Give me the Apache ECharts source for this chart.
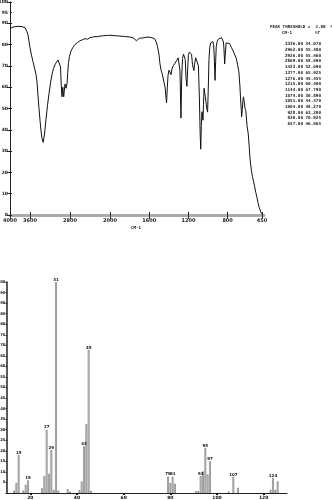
<!DOCTYPE html>
<html><head><meta charset="utf-8">
<script src="https://cdn.jsdelivr.net/npm/echarts@6/dist/echarts.min.js"></script>
<style>html,body{margin:0;padding:0;background:#fff;}#c{width:332px;height:500px;}</style>
</head><body><div id="c"></div>
<script>
// ---------- IR spectrum (top) ----------
const irWavenumber = [4000,3970,3940,3910,3880,3850,3820,3790,3760,3730,3700,3680,3660,3640,3620,3600,3570,3540,3510,3480,3460,3440,3420,3400,3380,3360,3336,3310,3280,3250,3220,3190,3160,3130,3100,3070,3040,3020,3005,2990,2975,2962,2952,2944,2936,2926,2915,2900,2888,2878,2869,2858,2845,2830,2810,2780,2740,2700,2650,2600,2550,2500,2450,2400,2350,2300,2250,2200,2150,2100,2050,2000,1950,1900,1850,1800,1765,1745,1730,1715,1700,1670,1640,1600,1570,1545,1528,1515,1502,1490,1478,1468,1458,1448,1438,1423,1415,1408,1398,1390,1385,1377,1368,1355,1340,1320,1305,1293,1286,1276,1268,1260,1250,1240,1232,1224,1215,1208,1200,1190,1178,1168,1158,1144,1135,1125,1113,1105,1098,1088,1080,1074,1068,1062,1057,1051,1046,1040,1034,1027,1018,1010,1004,998,990,982,973,960,950,943,937,928,922,916,906,896,880,862,850,842,836,830,824,815,800,780,760,748,730,712,698,685,675,667,660,657,650,644,638,630,622,614,602,590,580,573,563,555,546,538,525,512,502,490,478,468,458,450];
const irTransmittance = [87.6,87.9,88.2,88.0,88.5,88.1,88.6,88.2,88.4,87.9,88.0,87.2,86.0,84.5,81.5,78.5,75.0,72.0,69.0,66.0,62.5,56.0,50.0,44.5,39.5,36.0,34.1,38.0,45.0,51.5,57.0,62.0,66.0,68.8,70.5,71.8,72.8,73.0,72.5,69.5,61.0,55.5,57.0,60.0,58.0,55.5,58.0,61.5,62.0,59.5,58.7,62.0,67.0,71.5,74.5,77.0,78.8,80.0,81.0,81.8,82.3,82.8,82.5,83.3,83.5,83.8,83.7,84.0,84.1,84.3,84.3,84.4,84.2,84.0,83.8,83.6,83.2,82.5,81.8,82.4,83.0,83.1,83.4,83.5,83.2,82.8,81.2,79.0,76.0,71.0,67.8,66.4,66.8,65.5,60.0,52.7,60.0,65.5,68.0,68.8,67.5,65.9,68.5,70.0,71.0,72.5,73.8,74.2,68.0,45.5,65.0,73.5,75.5,76.2,73.0,64.0,60.4,68.0,75.0,76.5,77.2,75.5,70.5,67.8,71.5,73.8,74.6,74.2,70.0,55.0,38.0,30.9,42.0,48.5,47.5,44.5,52.0,59.5,57.5,55.5,52.0,49.5,48.3,58.0,73.0,78.5,80.8,81.3,81.4,80.0,75.0,63.2,72.0,79.0,81.5,82.5,83.0,83.3,82.5,81.2,77.0,70.9,75.0,80.8,81.2,80.5,78.5,77.5,75.5,73.6,70.5,67.3,61.0,54.0,49.0,46.1,49.5,53.5,55.5,53.0,50.0,49.0,42.0,38.4,32.5,27.4,23.0,20.3,18.0,16.4,13.5,10.5,8.6,5.8,3.6,2.3,1.0,0.5];
const irTicks = [4000,3600,2800,2000,1600,1200,800,450];
const irYTicks = [0,10,20,30,40,50,60,70,80,90,95,100];
const peakThreshold = 'PEAK THRESHOLD =  2.00  %T';
const peakWn = ['3336.00','2962.00','2926.00','2869.00','1423.00','1377.00','1276.00','1215.00','1144.00','1074.00','1051.00','1004.00','928.00','830.00','657.00'];
const peakT = ['34.070','55.480','55.460','58.690','52.690','65.925','45.455','60.400','67.790','30.890','44.470','48.270','63.200','70.925','46.065'];

// ---------- Mass spectrum (bottom) ----------
const msMz =        [13, 14, 15, 17, 18, 19, 25, 26, 27,  28, 29,  30, 31,  32, 36, 37, 41, 42, 43, 44,  45,  46, 79, 80, 81, 82, 91, 92, 93, 94,  95,  96, 97, 105,107,109,123,124,125,126];
const msIntensity = [1.1,4.7,18, 1.1,3.9,6.0,2.2,8.0,29.9,9.0,20.4,1.5,100,1.1,1.8,0.6,1.3,5.4,22, 32.6,67.7,1.0,7.7,4.7,7.7,4.3,0.8,0.8,7.9,10.2,21.3,8.7,15, 0.6,7.6,2.5,1.5,7.1,1.5,5.5];
const msLabeled = [15,19,27,29,31,43,45,79,81,93,95,97,107,124];
const msXTicks = [20,40,60,80,100,120];

function wnToT(wn){ return wn >= 2000 ? (4000 - wn) / 2 : 1000 + (2000 - wn) * 0.98; }
const irTickPos = irTicks.map(wnToT);
function irLabel(v){
  for (let i = 0; i < irTickPos.length; i++) if (Math.abs(irTickPos[i] - v) < 0.5) return String(irTicks[i]);
  return '';
}

const chart = echarts.init(document.getElementById('c'), null, {renderer: 'canvas'});
const mono = '"DejaVu Sans Mono", monospace';
const graphics = [
  {type:'text', left:270, top:25, style:{text:peakThreshold, font:'bold 4.2px ' + mono, fill:'#222'}},
  {type:'text', left:282, top:31, style:{text:'CM-1', font:'bold 4.2px ' + mono, fill:'#222'}},
  {type:'text', left:315, top:31, style:{text:'%T', font:'bold 4.2px ' + mono, fill:'#222'}},
  {type:'text', left:131, top:226, style:{text:'CM-1', font:'bold 4.2px ' + mono, fill:'#222'}}
];
peakWn.forEach((w, i) => {
  graphics.push({type:'text', x:303, y:44.3 + i * 5.69, style:{text:w, font:'bold 4.3px ' + mono, fill:'#222', align:'right', verticalAlign:'middle'}});
  graphics.push({type:'text', x:305.5, y:44.3 + i * 5.69, style:{text:peakT[i], font:'bold 4.3px ' + mono, fill:'#222', align:'left', verticalAlign:'middle'}});
});

const option = {
  animation: false,
  backgroundColor: '#fff',
  grid: [
    {left: 10, right: 68, top: 2, bottom: 285, outerBoundsMode: 'none', containLabel: false},
    {left: 7, right: 45, top: 282, bottom: 7, outerBoundsMode: 'none', containLabel: false}
  ],
  xAxis: [
    {gridIndex:0, type:'value', min:0, max:2540, position:'bottom',
     axisLine:{lineStyle:{color:'#222', width:1}},
     axisTick:{show:true, inside:true, length:3, customValues:irTickPos, lineStyle:{color:'#222'}},
     axisLabel:{customValues:irTickPos, formatter:irLabel, fontSize:5, color:'#222', margin:3, fontFamily:'DejaVu Sans', fontWeight:'bold'},
     splitLine:{show:false}},
    {gridIndex:0, type:'value', min:0, max:2540, position:'top',
     axisLine:{lineStyle:{color:'#aaa', width:3}},
     axisTick:{show:true, inside:true, length:4, customValues:irTickPos, lineStyle:{color:'#333'}},
     axisLabel:{show:false}, splitLine:{show:false}},
    {gridIndex:1, type:'value', min:10, max:130, interval:10,
     axisLine:{lineStyle:{color:'#222', width:1}},
     axisTick:{show:true, length:2, customValues:msXTicks, lineStyle:{color:'#111', width:2}},
     axisLabel:{customValues:msXTicks, fontSize:4.5, color:'#111', margin:2, fontWeight:'bold', fontFamily:'DejaVu Sans'},
     splitLine:{show:false}}
  ],
  yAxis: [
    {gridIndex:0, type:'value', min:0, max:100,
     axisLine:{show:true, lineStyle:{color:'#222', width:1}},
     axisTick:{show:true, inside:true, length:2, customValues:irYTicks, lineStyle:{color:'#222'}},
     axisLabel:{customValues:irYTicks, fontSize:4.5, color:'#222', margin:2, fontFamily:'DejaVu Sans', fontWeight:'bold'},
     splitLine:{show:false}},
    {gridIndex:0, type:'value', min:0, max:100, interval:10, position:'right',
     axisLine:{show:true, lineStyle:{color:'#222', width:1}},
     axisTick:{show:true, inside:true, length:3, lineStyle:{color:'#222'}},
     axisLabel:{show:false}, splitLine:{show:false}},
    {gridIndex:1, type:'value', min:0, max:100, interval:5,
     axisLine:{show:true, lineStyle:{color:'#222', width:1.5}},
     axisTick:{show:true, length:1.5, lineStyle:{color:'#222'}},
     axisLabel:{fontSize:3.8, color:'#111', margin:1.5, fontWeight:'bold', fontFamily:'DejaVu Sans',
                formatter: v => v === 0 ? '' : String(v)},
     splitLine:{show:false}}
  ],
  series: [
    {type:'line', xAxisIndex:0, yAxisIndex:0, showSymbol:false, symbol:'none',
     data: irWavenumber.map((w, i) => [wnToT(w), irTransmittance[i]]),
     lineStyle:{color:'#111', width:1}},
    {type:'bar', xAxisIndex:2, yAxisIndex:2, barWidth:1.6,
     data: msMz.map((m, i) => [m, msIntensity[i]]),
     itemStyle:{color:'#eeeeee', borderColor:'#444', borderWidth:0.5},
     label:{show:true, position:'top', distance:0.5, fontSize:4, color:'#111', fontWeight:'bold', fontFamily:'DejaVu Sans',
            formatter: p => msLabeled.includes(p.value[0]) ? String(p.value[0]) : ''}}
  ],
  graphic: graphics
};
chart.setOption(option);
</script>
</body></html>
